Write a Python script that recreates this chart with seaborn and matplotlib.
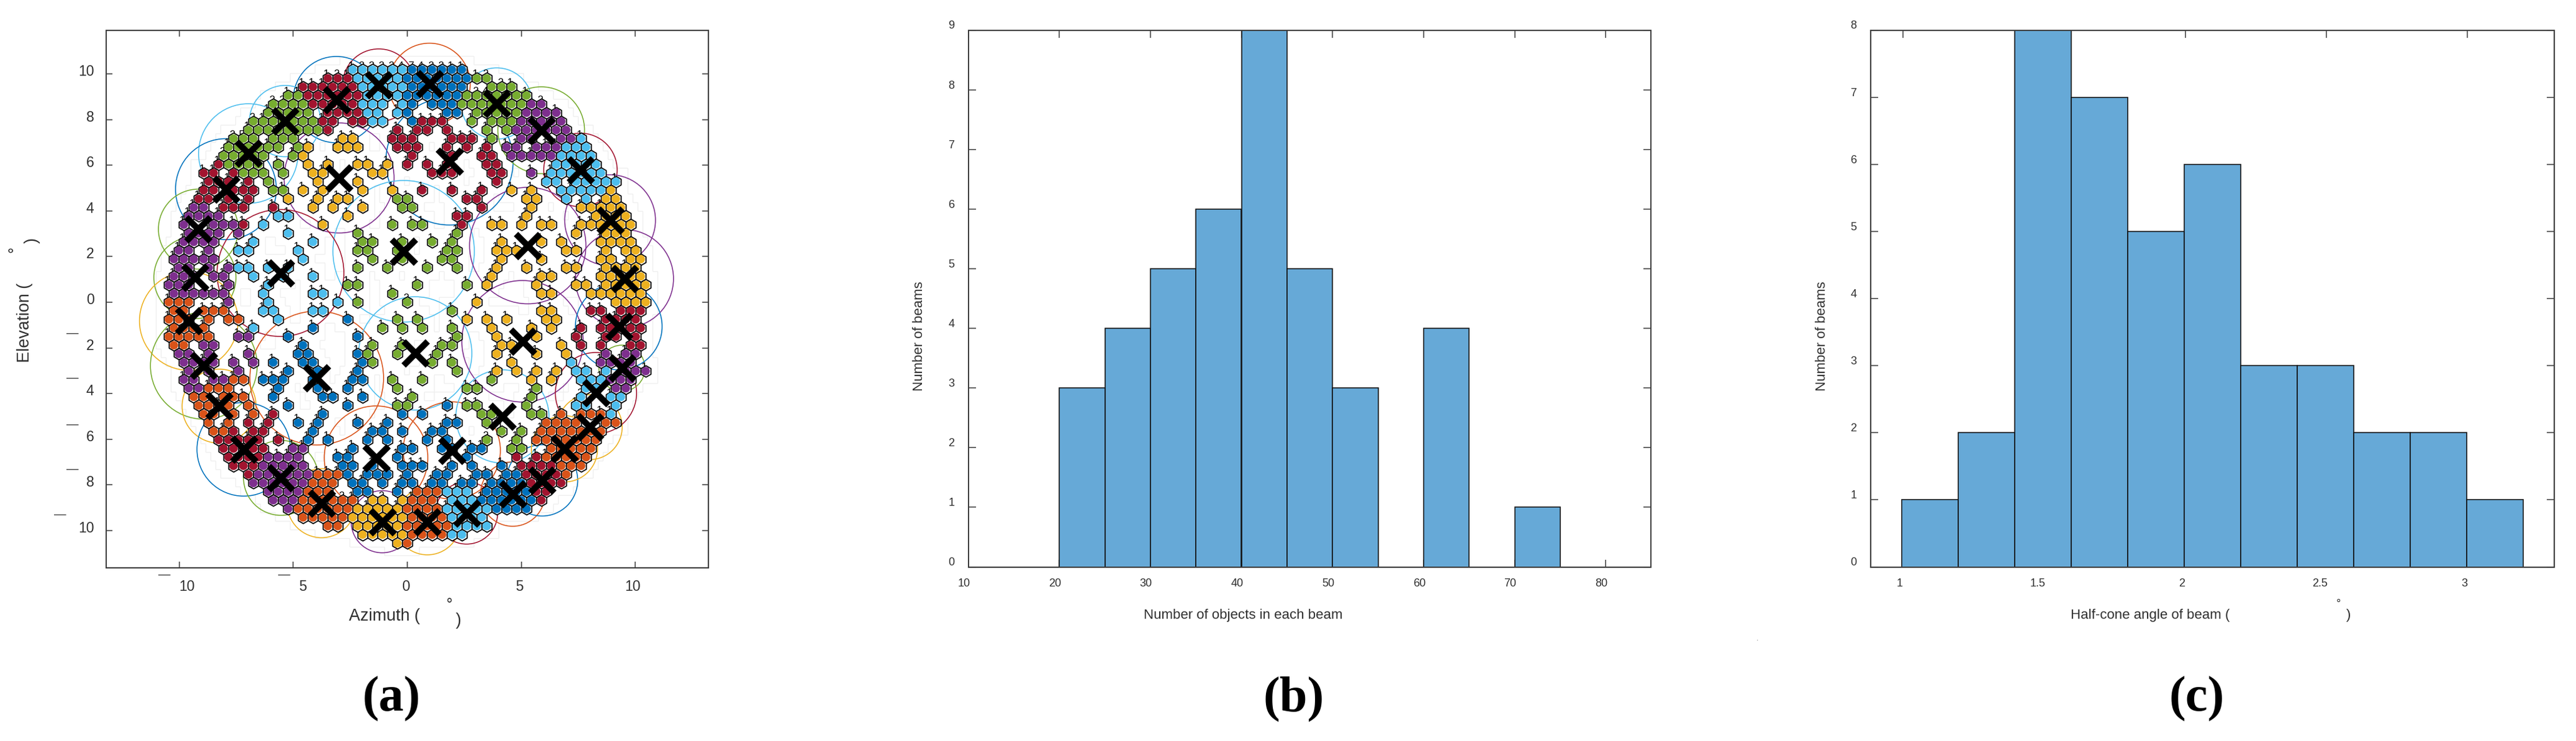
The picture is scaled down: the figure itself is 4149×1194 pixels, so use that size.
"""Beam layout map plus the two per-beam histograms (objects, half-cone angle)."""

import matplotlib

matplotlib.use("Agg")
import matplotlib.pyplot as plt
import matplotlib.transforms as mtrans
from matplotlib.patches import Circle
import numpy as np
import pandas as pd
import seaborn as sns

W, H = 4149, 1194
DPI = 100
TEXT_COL = "#2f2f2f"
LINE_COL = "#3a3a3a"
BAR_COL = "#66A9D7"

# MATLAB default line colours, one letter per beam colour
beam_colours = {"B": "#0072BD", "O": "#D95319", "Y": "#EDB120", "P": "#7E2F8E",
                "G": "#77AC30", "L": "#4DBEEE", "R": "#A2142F"}
# every beam circle uses the next colour in the cycle
circle_colours = {"B": "O", "O": "Y", "Y": "P", "P": "G", "G": "L", "L": "R", "R": "B"}

# lattice occupancy, top row first: (first column, colour letters, "." = no object)
cell_rows = [
    (18, "LLLLLLBBBBBB"),
    (16, "RRRLLLLLBBBBBBBGG"),
    (13, "RRRRRRLLLLLBBBBBB..GGG"),
    (12, "GGRRRRRRLLLLBBBBBBGGGGGGG"),
    (10, "GGGGRRRRRLLL.LB.BBBGGGGGGGPP"),
    (10, "GGGGG.RRRRLL.LB...BB.GGGGGPPPP"),
    (8, "GGGGGGGRR.RRLL..BRRR..G.GGGPPPPP"),
    (8, "GGGGGGGGR......R.RR.R...G.GPPPPPP"),
    (6, "GGG.GGG....YY...RRR...RRR.G..PP..PPL"),
    (6, "GGGGGG.GY..YYY...RRR..R.R.R.PP.PPPLLL"),
    (5, "GGGGG..GY..........R...R..RR.PPPPPLLLL"),
    (5, "RGGGG.G..Y.Y..YY.Y.R.R.R...RR.....LLLLL"),
    (3, "RR.RGGG.G..YY....YY....RRR...RR..P.LLLLLL"),
    (4, "RRR.R.G....Y...Y.............R....LL.LLLLL"),
    (3, "RR.RRR.GG.Y.Y...Y..Y..R..R..R..Y.Y..LLLLLY"),
    (3, "RR.R.R...Y..Y.YY....GG.....RR....YY..L.L.YY"),
    (2, "PP.RRR..R...Y.Y..Y...GG......R....Y....YYYYY"),
    (2, "PPPP.....LL.....Y..........RR.....Y......YYYY"),
    (1, "P..PPPR.L.....Y......G.GG...R..YY.Y.YY..YYYYYY"),
    (2, "PPPP.P....L......G.........G...........Y..YYY"),
    (1, "PPPP...L.....L....GG..G..G.G....Y...Y.Y...YYYY"),
    (1, "PP.P..LL....L.....GG..G....GG...YYY....YY..Y.YY"),
    (0, "PPPPP........L......G..G...GG....Y...Y.....YY.YY"),
    (1, "PP.P.PLL.L.L......G..G...G..G...Y..Y...YY..YYYY"),
    (0, "PPP.PP..L..L..L.................Y....YY....YYYYY"),
    (0, "PPP...P...L.......GG.....G....G.Y....Y...YY.YYYYY"),
    (0, "PPPPPP...L....LL......G..............YY...YYYYYY"),
    (0, "OOO...P...L......L.G....G......Y.............YYYY"),
    (0, "OO.OOO...LL...LL............G........YY...RR.RRR"),
    (0, "OOO.O.OO...L......B....G.G....Y.Y.Y...YY....RRRR"),
    (0, "OOOO....L.....B......G.G.G..G...Y...Y.Y..R.RRRRR"),
    (0, "OOOOO..PP...B......B.........G...Y...Y...R..RR.R"),
    (0, "OO.PP........B......G..G...GG....YY....Y.R.R..RR"),
    (1, "PP.P...P....BB....BG..G...G.....Y...Y..Y...P.PP"),
    (1, "PPPP.P.P.B..BB....BG.....G.G.....Y.....L..PPPP"),
    (2, "P.P..P....B..B...B.........G...Y.Y.Y.Y.LL.L.PPP"),
    (1, "PP.PPOO.BBB..B...BB..G..G......G...Y.Y..LLLPPP"),
    (2, "PPOOO....B...B..B....G......GG.....G....LL.PP"),
    (2, "OO.OOO..B....BB..B....G...........G....L..LL"),
    (3, "OOOO.O...B.....B....GG...B.GG....G....LL..L"),
    (3, "OO.O.O.R....B.......B.B.....GG...GG.O.OOOL"),
    (4, "O.O.R.R..B.B...B..B.....BB..G.....OOOO..OO"),
    (4, "OOR.RR....B.....BB.B..BB.....G.G.OOOOOOO"),
    (5, "RRRRR.R..B.B...B.B...B.B...G..G.OOOOOOO"),
    (5, "RRRRR..PP....B....BB..BB.BB..GG..OOOOO"),
    (6, "RRRRPPPP...BB....B......B....R.ROOOOO"),
    (6, "RRRPPPPP...BB.B..BBB..B.B..B.RRRROOO"),
    (8, "RPPPPPPOOOB.BBB.B..BB..BB.BBRRRRO"),
    (8, "PPPPPPOOO.BB.B.BB.BB.BB.BBBBRRRR"),
    (10, "PPPPOOO..BB..B.OOOLLL.BBBBBRR"),
    (10, "PPPOOOOOO.YY.YOOO.LLLBBBBBBR"),
    (12, "POOOOOOYYYYYOOOOLLLLLBBBB"),
    (13, "OOOOOYYYYYYOOOOLLLL"),
    (16, "OO.YYYYYOOOOOLLLL"),
    (19, "YYYYYOOOOLL"),
    (23, "YO"),
]
# object counts printed on the cells that are not "1": (row, column, count)
cell_counts = [(0, 19, "2"), (0, 20, "2"), (0, 21, "2"), (0, 22, "2"), (0, 23, "4"), (0, 24, "7"),
               (0, 25, "4"), (0, 26, "2"), (0, 27, "2"), (1, 17, "2"), (1, 32, "2"), (2, 33, "2"),
               (3, 31, "2"), (3, 32, "4"), (4, 10, "2"), (4, 11, "2"), (4, 37, "2"), (6, 8, "2"),
               (8, 6, "2"), (8, 7, "5"), (10, 5, "2"), (27, 24, "2"), (32, 43, "2"), (38, 41, "2"),
               (43, 32, "2"), (44, 34, "2"), (50, 17, "2"), (50, 21, "2"), (50, 26, "2"), (54, 24, "2")]

beam_az = [-1.25, 0.97, -3.11, -5.36, 3.92, -6.97, -7.95, -9.16, -9.31, -2.99, 1.85, -0.16, -5.56, 5.87,
           7.59, 8.89, 9.52, 5.28, -9.58, -8.92, -8.25, -3.97, -7.17, -5.54, -3.76, -1.10, -1.37, 0.35,
           5.05, 1.95, 4.17, 0.88, 2.60, 4.62, 5.91, 6.89, 8.00, 8.27, 9.41, 9.27]
beam_el = [9.50, 9.55, 8.87, 7.93, 8.70, 6.51, 4.95, 3.20, 1.08, 5.44, 6.17, 2.23, 1.28, 7.53,
           5.79, 3.59, 1.03, 2.48, -0.82, -2.78, -4.55, -3.32, -6.44, -7.69, -8.80, -9.61, -6.81, -2.24,
           -1.71, -6.49, -5.00, -9.61, -9.23, -8.40, -7.80, -6.42, -5.47, -3.98, -2.89, -1.06]
beam_radius = [1.59, 1.79, 1.89, 1.56, 1.56, 2.18, 2.21, 1.75, 1.80, 2.41, 2.79, 3.10, 2.78, 1.90,
               1.61, 1.99, 2.15, 2.55, 2.16, 2.34, 1.62, 2.93, 2.05, 1.64, 1.51, 1.36, 2.27, 2.48,
               2.66, 2.13, 2.04, 1.45, 1.36, 1.41, 1.56, 1.45, 1.42, 1.78, 1.01, 1.90]
beam_colour = list("LBRGGGRPPYRGLPLYYYOPOBRPOYBGYBGOLBROOLPR")

object_edges = [10, 15, 20, 25, 30, 35, 40, 45, 50, 55, 60, 65, 70, 75, 80, 85]
object_counts = [0, 0, 3, 4, 5, 6, 9, 5, 3, 0, 4, 0, 1, 0, 0]
angle_edges = [0.997, 1.197, 1.397, 1.597, 1.797, 1.997, 2.197, 2.397, 2.597, 2.797, 2.997, 3.197]
angle_counts = [1, 2, 8, 7, 5, 6, 3, 3, 2, 2, 1]

CELL_PITCH = 0.4354  # deg between neighbours in a row
ROW_PITCH = 0.377    # deg between rows

sns.set_theme(style="white")
plt.rcParams["font.family"] = ["Liberation Sans", "DejaVu Sans"]
plt.rcParams["text.color"] = TEXT_COL
plt.rcParams["axes.labelcolor"] = TEXT_COL


def px_axes(fig, left, top, right, bottom):
    return fig.add_axes([left / W, 1 - bottom / H, (right - left) / W, (bottom - top) / H])


def px_text(fig, x, y, s, **kw):
    kw.setdefault("ha", "center")
    kw.setdefault("va", "center")
    return fig.text(x / W, 1 - y / H, s, **kw)


def shift_labels(fig, labels, dx, dy):
    # tick labels in the original are a few pixels off their ticks
    for lab, ox in zip(labels, dx):
        off = mtrans.ScaledTranslation(ox / DPI, dy / DPI, fig.dpi_scale_trans)
        lab.set_transform(lab.get_transform() + off)


def style_box(ax, length):
    for sp in ax.spines.values():
        sp.set_visible(True)
        sp.set_color(LINE_COL)
        sp.set_linewidth(1.4)
    ax.tick_params(direction="in", top=True, right=True, bottom=True, left=True, length=length,
                   width=1.1, color=LINE_COL, labelcolor=TEXT_COL)


def cell_table():
    rows = []
    for r, (start, letters) in enumerate(cell_rows):
        half = 0.5 if r % 2 == 0 else 0.0
        for k, c in enumerate(letters):
            if c != ".":
                i = start + k
                rows.append((r, i, (i - 24 + half) * CELL_PITCH, (27 - r) * ROW_PITCH, c))
    return pd.DataFrame(rows, columns=["row", "col", "az", "el", "beam"])


def draw_map(fig):
    ax = px_axes(fig, 171, 49, 1141, 915)
    cells = cell_table()
    occupied = set(zip(cells["row"], cells["col"]))
    counts = {(r, c): d for r, c, d in cell_counts}

    # faint stepped outline of the occupied lattice
    grid = np.zeros((60, 104))
    half_col = cells["col"] * 2 + (cells["row"] % 2 == 0).astype(int)
    for r, h in zip(cells["row"], half_col):
        grid[r + 1:r + 4, h + 1:h + 6] = 1
    fine = np.kron(grid, np.ones((8, 8)))
    gx = (np.arange(fine.shape[1]) / 8 - 3.5 - 48) * CELL_PITCH / 2
    gy = (27 - (np.arange(fine.shape[0]) / 8 - 2.5)) * ROW_PITCH
    ax.contour(gx, gy, fine, levels=[0.5], colors="#efefef", linewidths=1.0, zorder=1)

    for az, el, rad, c in zip(beam_az, beam_el, beam_radius, beam_colour):
        ax.add_patch(Circle((az, el), rad, fill=False, lw=1.15, zorder=2,
                            edgecolor=beam_colours[circle_colours[c]]))

    for row in cells.itertuples():
        upper_left = row.col - 1 if row.row % 2 else row.col
        if (row.row - 1, upper_left) not in occupied:
            ax.text(row.az - 0.07, row.el + 0.17, counts.get((row.row, row.col), "1"), ha="center",
                    va="center", fontsize=12, color="black", zorder=2.5)

    sns.scatterplot(data=cells, x="az", y="el", marker="h", s=176, color="white", edgecolor="black",
                    linewidth=1.3, legend=False, ax=ax, zorder=3)
    sns.scatterplot(data=cells, x="az", y="el", hue="beam", palette=beam_colours, marker="o", s=96,
                    linewidth=0, legend=False, ax=ax, zorder=4)
    sns.scatterplot(x=beam_az, y=beam_el, marker="x", s=780, color="black", linewidth=7.2, legend=False,
                    ax=ax, zorder=5)

    ax.set_xlim(-13.2, 13.2)
    ax.set_ylim(-11.63, 11.9)
    style_box(ax, 7.2)
    ax.set_xticks([-10, -5, 0, 5, 10], ["10", "5", "0", "5", "10"])
    ax.set_yticks(list(range(-10, 11, 2)), ["10", "8", "6", "4", "2", "0", "2", "4", "6", "8", "10"])
    ax.tick_params(axis="x", labelsize=16.5, pad=14)
    ax.tick_params(axis="y", labelsize=16.5, pad=14)
    shift_labels(fig, ax.get_xticklabels(), [12, 15, -3, -3, -4], 0)
    shift_labels(fig, ax.get_yticklabels(), [0] * 11, 6)
    ax.set_xlabel("")
    ax.set_ylabel("")

    # detached minus signs, as in the source figure
    for x, y in [(265, 926), (458, 926), (117, 537), (117, 609), (117, 684), (117, 756), (97, 829)]:
        px_text(fig, x, y, "\u2014", fontsize=14, color=TEXT_COL)

    px_text(fig, 562, 993, "Azimuth (", ha="left", fontsize=19.5)
    px_text(fig, 724, 975, "\u00b0", fontsize=18)
    px_text(fig, 738, 1000, ")", fontsize=19.5)
    px_text(fig, 40, 520, "Elevation (", rotation=90, fontsize=19.5)
    px_text(fig, 25, 402, "\u00b0", rotation=90, fontsize=18)
    px_text(fig, 52, 388, ")", rotation=90, fontsize=19.5)


def draw_hist(fig, box, edges, counts, xlim, xticks, xtick_labels, xoff, ymax):
    ax = px_axes(fig, *box)
    centres = (np.array(edges[:-1]) + np.array(edges[1:])) / 2
    sns.histplot(x=centres, weights=counts, bins=edges, color=BAR_COL, alpha=1, edgecolor="#111111",
                 linewidth=1.15, ax=ax)
    ax.set_xlim(*xlim)
    ax.set_ylim(0, ymax)
    style_box(ax, 8.3)
    ax.set_xticks(xticks, xtick_labels)
    ax.set_yticks(range(ymax + 1))
    ax.tick_params(axis="x", labelsize=13, pad=13.5)
    ax.tick_params(axis="y", labelsize=13, pad=16)
    shift_labels(fig, ax.get_xticklabels(), xoff, 0)
    shift_labels(fig, ax.get_yticklabels(), [0] * (ymax + 1), 9)
    ax.set_xlabel("")
    ax.set_ylabel("")


fig = plt.figure(figsize=(W / DPI, H / DPI), dpi=DPI, facecolor="white")

draw_map(fig)
draw_hist(fig, (1559.5, 49, 2659.5, 913.5), object_edges, object_counts, (10, 85),
          list(range(10, 81, 10)), [str(v) for v in range(10, 81, 10)], [-7] * 8, 9)
draw_hist(fig, (3012.5, 49, 4113.5, 913.5), angle_edges, angle_counts, (0.885, 3.306),
          [1, 1.5, 2, 2.5, 3], ["1", "1.5", "2", "2.5", "3"], [-5, -10, -5, -10, -5], 8)

px_text(fig, 1842, 992, "Number of objects in each beam", ha="left", fontsize=16)
px_text(fig, 1480, 542, "Number of beams", rotation=90, fontsize=16)
px_text(fig, 3335, 992, "Half-cone angle of beam (", ha="left", fontsize=16)
px_text(fig, 3767, 973, "\u00b0", fontsize=13)
px_text(fig, 3783, 992, ")", fontsize=16)
px_text(fig, 2935, 542, "Number of beams", rotation=90, fontsize=16)
px_text(fig, 2831, 1029, ".", fontsize=9, color="#666666")

for x, cap in [(630, "(a)"), (2084, "(b)"), (3538, "(c)")]:
    px_text(fig, x, 1126, cap, family="Liberation Serif", fontweight="bold", fontsize=58, color="black")

fig.savefig("out.png", dpi=DPI)
